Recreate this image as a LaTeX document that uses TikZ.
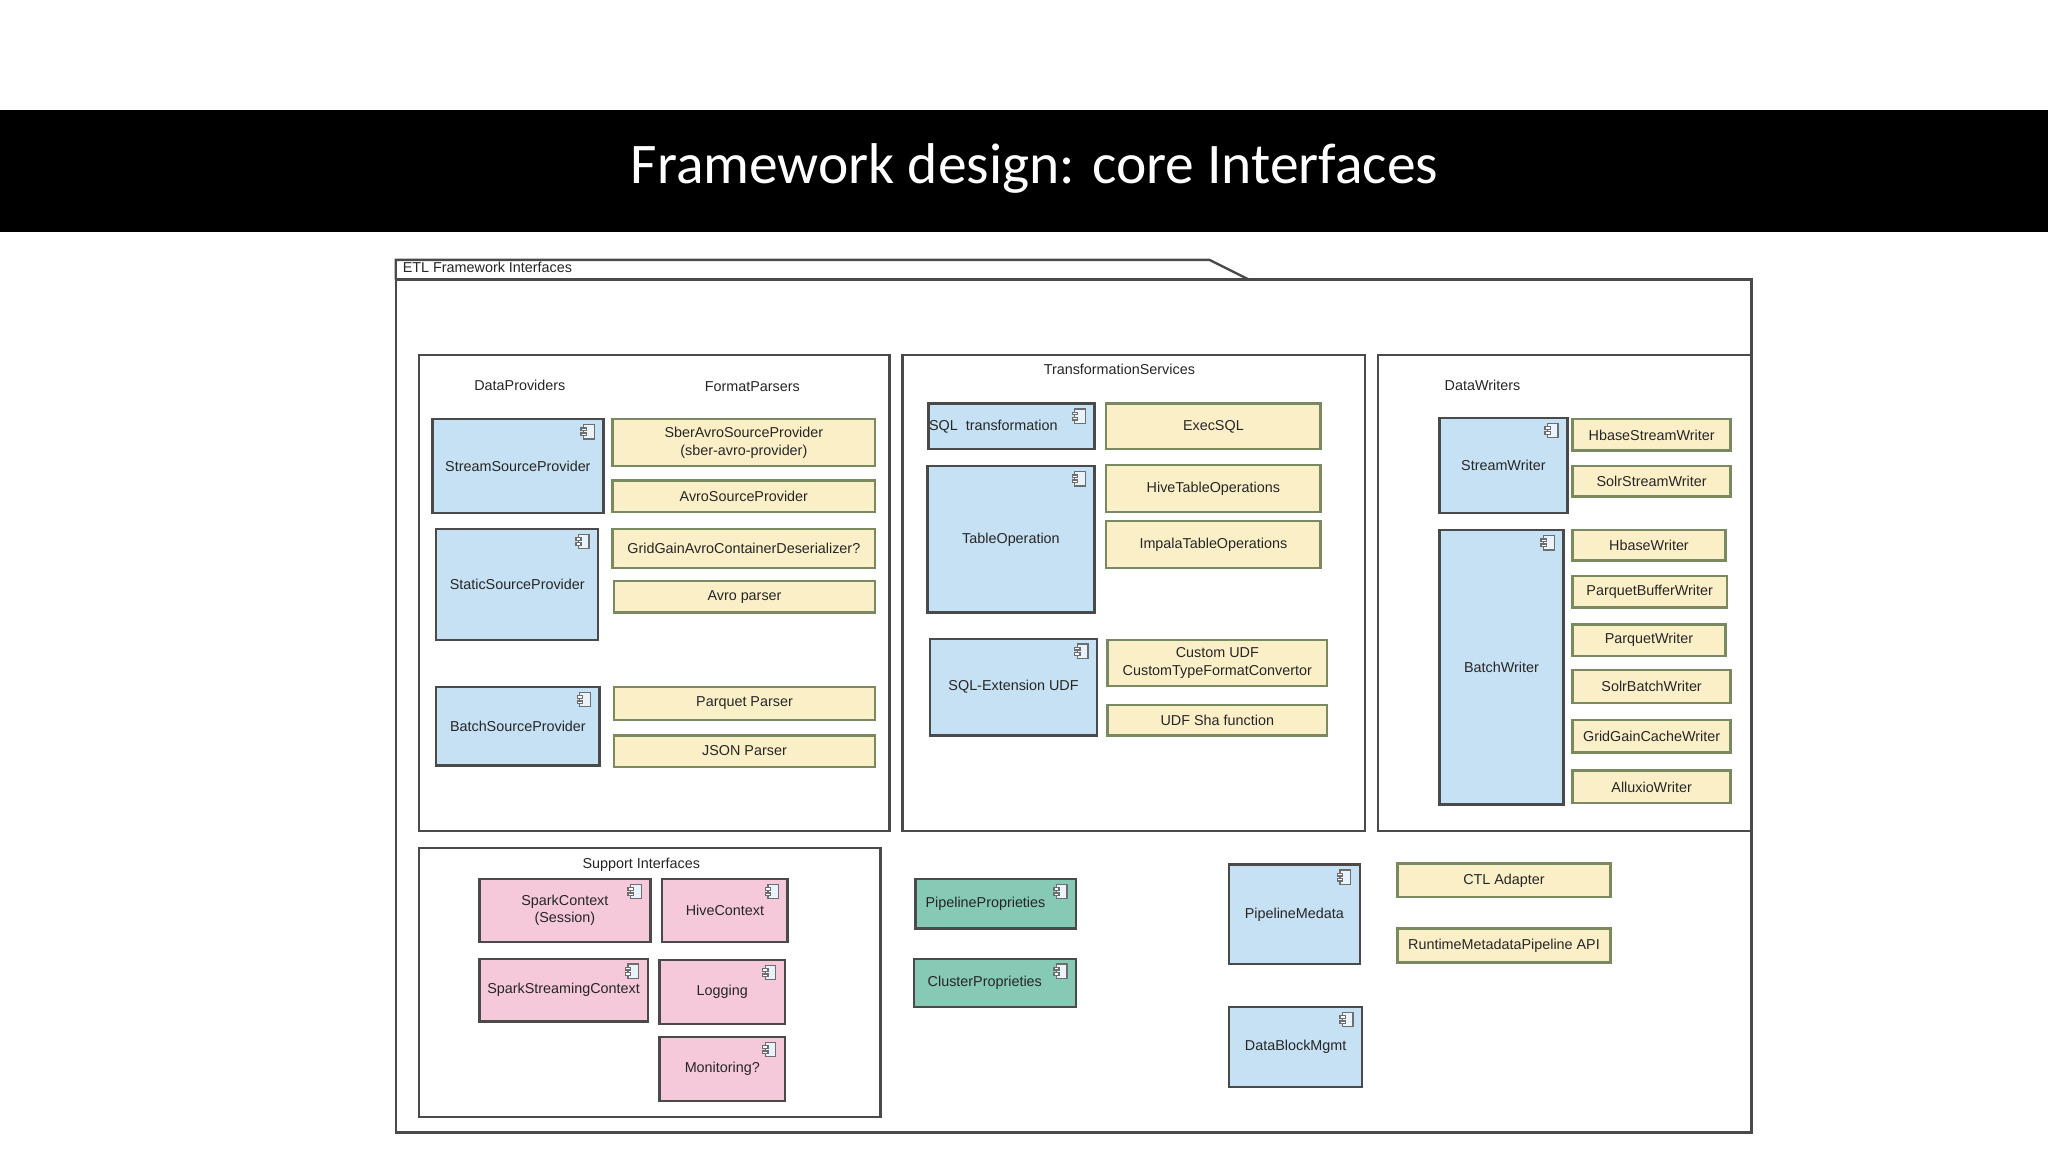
\documentclass[tikz,border=0pt]{standalone}
\usepackage{fontspec}
\setmainfont{Liberation Sans}
\newfontfamily\titlefont{Carlito}
\usetikzlibrary{fit}
\definecolor{bl}{HTML}{C6E1F4}
\definecolor{ye}{HTML}{FBEFC8}
\definecolor{pk}{HTML}{F5C9DA}
\definecolor{te}{HTML}{86C9B5}
\definecolor{bd}{HTML}{4A4A4A}
\definecolor{ybd}{HTML}{7A8A60}
\tikzset{
 x=0.5pt,y=-0.5pt,
 panel/.style={draw=bd,line width=0.9pt},
 box/.style={draw=bd,line width=0.9pt,inner sep=0pt},
 blue/.style={box,fill=bl},
 yel/.style={box,fill=ye,draw=ybd},
 pink/.style={box,fill=pk},
 teal/.style={box,fill=te},
 txt/.style={font=\fontsize{5.5}{6.6}\selectfont,text=black!85,align=center,inner sep=0pt},
 ico/.pic={\draw[bd!80,line width=0.5pt,fill=white!60!bl] (0,0) rectangle (8,11);
   \draw[bd!80,line width=0.5pt,fill=white] (-2,2.5) rectangle (2,4.5) (-2,6.5) rectangle (2,8.5);}
}
\newcommand\bx[7]{\node[#1,fit={(#3,#4)(#5,#6)}] (#2) {};\node[txt] (#2-t) at (#2.center) {#7};}
\newcommand\ic[1]{\pic at ([xshift=-8pt,yshift=-2.5pt]#1.north east) {ico};}
\begin{document}
\begin{tikzpicture}
\useasboundingbox (0,0) rectangle (1568,882);
\fill[white] (0,0) rectangle (1568,882);
\fill[black] (0,84) rectangle (1568,178);
\node[text=white,font=\titlefont\fontsize{22}{26}\selectfont] (title) at (792,129) {Framework design: core Interfaces};
% outer frame
\draw[panel] (303,214) -- (303,199) -- (926,199) -- (956,214);
\node[panel,fit={(303,214)(1341,867)},inner sep=0pt] (frame) {};
\node[txt,anchor=west] (frame-t) at (308,205) {ETL Framework Interfaces};
% panels
\node[panel,fit={(321,272)(681,636)},inner sep=0pt] (dp) {};
\node[txt] (dpl) at (398,295) {DataProviders};
\node[txt] (fpl) at (576,296) {FormatParsers};
\node[panel,fit={(691,272)(1045,636)},inner sep=0pt] (ts) {};
\node[txt] (tsl) at (857,283) {TransformationServices};
\node[panel,fit={(1055,272)(1341,636)},inner sep=0pt] (dw) {};
\node[txt] (dwl) at (1135,295) {DataWriters};
\node[panel,fit={(321,649)(674,855)},inner sep=0pt] (si) {};
\node[txt] (sil) at (491,662) {Support Interfaces};
% data providers
\bx{blue}{ssp}{331}{321}{462}{393}{StreamSourceProvider}\ic{ssp}
\bx{blue}{stp}{334}{405}{458}{490}{StaticSourceProvider}\ic{stp}
\bx{blue}{bsp}{334}{526}{459}{586}{BatchSourceProvider}\ic{bsp}
\bx{yel}{sber}{469}{321}{670}{357}{SberAvroSourceProvider\\(sber-avro-provider)}
\bx{yel}{asp}{469}{368}{670}{392}{AvroSourceProvider}
\bx{yel}{gg}{469}{405}{670}{435}{GridGainAvroContainerDeserializer?}
\bx{yel}{ap}{470}{445}{670}{469}{Avro parser}
\bx{yel}{pp}{470}{526}{670}{551}{Parquet Parser}
\bx{yel}{jp}{470}{563}{670}{587}{JSON Parser}
% transformation
\bx{blue}{sqlt}{711}{309}{838}{344}{SQL\ \ transformation\hspace{14pt}}\ic{sqlt}
\bx{blue}{to}{710}{357}{838}{469}{TableOperation}\ic{to}
\bx{blue}{sqle}{712}{489}{840}{563}{SQL-Extension UDF}\ic{sqle}
\bx{yel}{es}{847}{309}{1011}{344}{ExecSQL}
\bx{yel}{hto}{847}{356}{1011}{392}{HiveTableOperations}
\bx{yel}{ito}{847}{399}{1011}{435}{ImpalaTableOperations}
\bx{yel}{cu}{848}{490}{1016}{525}{Custom UDF\\CustomTypeFormatConvertor}
\bx{yel}{sha}{848}{540}{1016}{563}{UDF Sha function}
% writers
\bx{blue}{sw}{1102}{320}{1200}{393}{StreamWriter}\ic{sw}
\bx{blue}{bw}{1102}{406}{1197}{616}{BatchWriter}\ic{bw}
\bx{yel}{hsw}{1204}{321}{1325}{345}{HbaseStreamWriter}
\bx{yel}{ssw}{1204}{357}{1325}{380}{SolrStreamWriter}
\bx{yel}{hw}{1204}{406}{1321}{429}{HbaseWriter}
\bx{yel}{pbw}{1204}{441}{1322}{465}{ParquetBufferWriter}
\bx{yel}{pw}{1204}{478}{1321}{502}{ParquetWriter}
\bx{yel}{sbw}{1204}{513}{1325}{538}{SolrBatchWriter}
\bx{yel}{gcw}{1204}{551}{1325}{576}{GridGainCacheWriter}
\bx{yel}{aw}{1204}{590}{1325}{615}{AlluxioWriter}
% support
\bx{pink}{sc}{367}{673}{498}{721}{SparkContext\\(Session)}\ic{sc}
\bx{pink}{hc}{507}{673}{603}{721}{HiveContext}\ic{hc}
\bx{pink}{ssc}{367}{734}{496}{782}{SparkStreamingContext}\ic{ssc}
\bx{pink}{lg}{505}{735}{601}{784}{Logging}\ic{lg}
\bx{pink}{mon}{505}{794}{601}{843}{Monitoring?}\ic{mon}
% others
\bx{teal}{pprop}{701}{673}{824}{711}{PipelineProprieties\hspace{8pt}}\ic{pprop}
\bx{teal}{cprop}{700}{734}{824}{771}{ClusterProprieties\hspace{8pt}}\ic{cprop}
\bx{blue}{pm}{941}{662}{1041}{738}{PipelineMedata}\ic{pm}
\bx{blue}{dbm}{941}{771}{1043}{832}{DataBlockMgmt}\ic{dbm}
\bx{yel}{ctl}{1070}{661}{1233}{687}{CTL Adapter}
\bx{yel}{rmp}{1070}{711}{1233}{737}{RuntimeMetadataPipeline API}
\end{tikzpicture}
\end{document}
